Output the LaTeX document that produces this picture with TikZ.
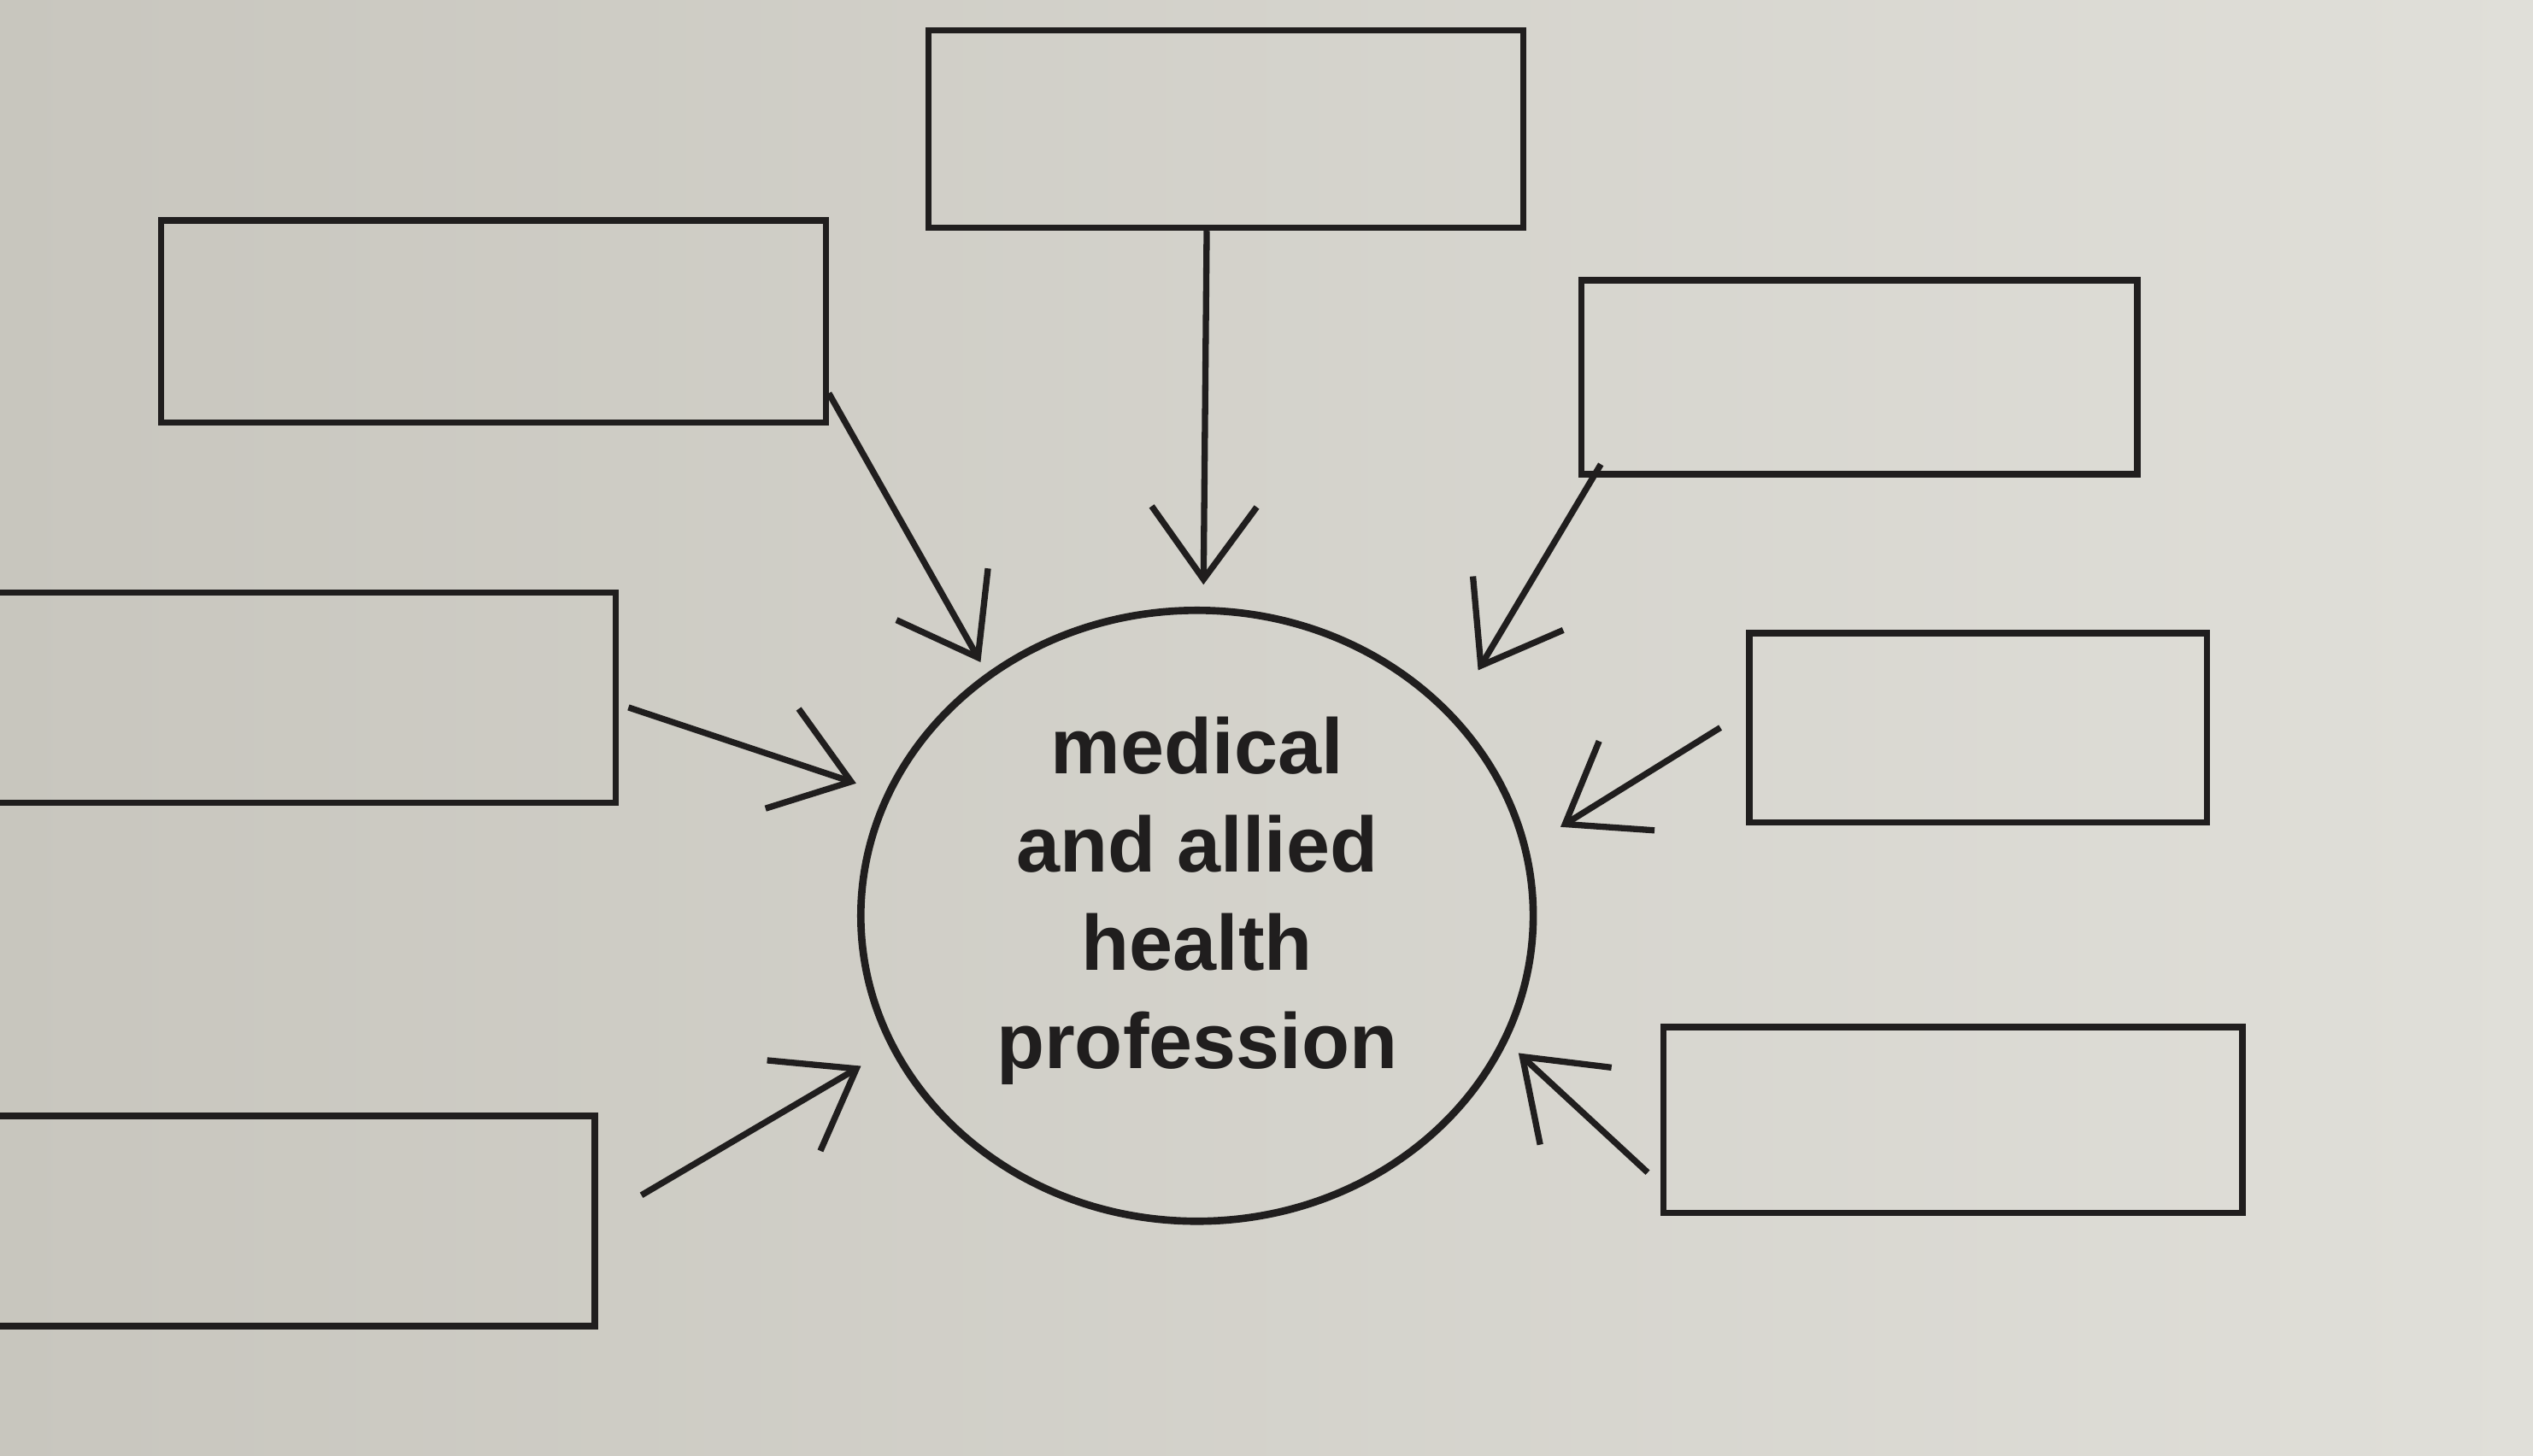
\documentclass[tikz,border=0pt]{standalone}
\usepackage{fontspec}
\setmainfont{Liberation Sans}
\usetikzlibrary{arrows.meta,shapes.geometric}
\definecolor{paper}{RGB}{200,198,190}
\definecolor{paperlight}{RGB}{224,223,217}
\definecolor{ink}{RGB}{32,30,30}

\begin{document}
\begin{tikzpicture}[x=0.01cm, y=-0.01cm,
    box/.style={draw=ink, line width=1.1pt, inner sep=0pt},
    arr/.style={draw=ink, line width=1.1pt,
      -{Straight Barb[length=4.5mm, width=6.5mm, line width=1.1pt]}}]
      \shade[left color=paper, right color=paperlight] (0,0) rectangle (1568,901);
      \useasboundingbox (0,0) rectangle (1568,901);

      \node[box, minimum width=3.68cm, minimum height=1.22cm] (top) at (759,80) {};
      \node[box, minimum width=4.11cm, minimum height=1.25cm] (tl) at (305.5,199) {};
      \node[box, minimum width=3.44cm, minimum height=1.20cm] (tr) at (1151,233.5) {};
      \node[box, minimum width=4.01cm, minimum height=1.30cm] (ml) at (180.5,432) {};
      \node[box, minimum width=2.83cm, minimum height=1.17cm] (mr) at (1224.5,450.5) {};
      \node[box, minimum width=3.88cm, minimum height=1.30cm] (bl) at (174,756) {};
      \node[box, minimum width=3.58cm, minimum height=1.15cm] (br) at (1209,693.5) {};

      \node[draw=ink, line width=1.3pt, ellipse, inner sep=0pt,
        minimum width=4.16cm, minimum height=3.78cm] (prof) at (741,567) {};
      \node[font=\bfseries\fontsize{13.8}{17.3}\selectfont, align=center, text=ink]
        (txt) at (741,558) {medical\\and allied\\health\\profession};

      \coordinate (tipT) at (745,362);
      \coordinate (tipTL) at (607,410);
      \coordinate (tipTR) at (915,415);
      \coordinate (tipML) at (530,485);
      \coordinate (tipMR) at (966,512);
      \coordinate (tipBL) at (533,660);
      \coordinate (tipBR) at (940,652);

      \draw[arr] ([xshift=-0.12cm]top.south) -- (tipT);
      \draw[arr] ([yshift=0.2cm]tl.south east) -- (tipTL);
      \draw[arr] ([xshift=0.14cm, yshift=0.08cm]tr.south west) -- (tipTR);
      \draw[arr] ([xshift=0.06cm, yshift=-0.06cm]ml.east) -- (tipML);
      \draw[arr] ([xshift=-0.16cm]mr.west) -- (tipMR);
      \draw[arr] ([xshift=0.27cm, yshift=0.16cm]bl.east) -- (tipBL);
      \draw[arr] ([xshift=-0.08cm, yshift=0.27cm]br.south west) -- (tipBR);
\end{tikzpicture}
\end{document}
